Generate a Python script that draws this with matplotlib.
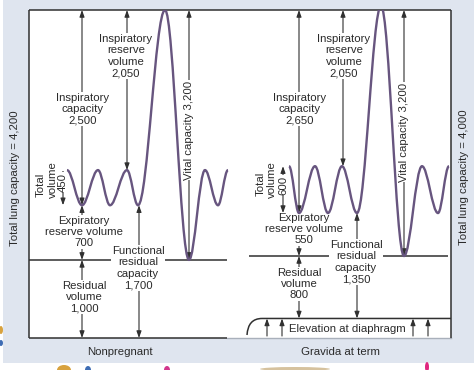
import matplotlib
matplotlib.use("Agg")
import matplotlib.pyplot as plt
from matplotlib.path import Path
from matplotlib.patches import PathPatch, Rectangle, Ellipse

plt.rcParams["font.family"] = ["Liberation Sans", "DejaVu Sans"]

# lung volumes (mL)
nonpreg_rv, nonpreg_erv, nonpreg_vt, nonpreg_irv = 1000, 700, 450, 2050
nonpreg_frc, nonpreg_ic, nonpreg_vc, nonpreg_tlc = 1700, 2500, 3200, 4200
grav_rv, grav_erv, grav_vt, grav_irv = 800, 550, 600, 2050
grav_frc, grav_ic, grav_vc, grav_tlc = 1350, 2650, 3200, 4000

# spirogram turning points: time along the trace and lung volume (mL)
nonpreg_t = [67, 82, 98, 110, 127, 138, 165, 189, 205, 218, 228]
nonpreg_v = [2150, 1700, 2150, 1700, 2150, 1700, 4200, 1000, 2150, 1700, 2150]
grav_t = [289, 299, 315, 328, 342, 357, 381, 404, 422, 438, 449]
grav_v = [1950, 1350, 1950, 1350, 1950, 1350, 4000, 800, 1950, 1350, 1950]

panel_names = ["Nonpregnant", "Gravida at term"]

ELEV = 250          # diaphragm elevation drawn as a baseline shift
K = 328 / 4200      # pixels per mL
FS = 8.2
TXT = "#2a2a2a"
LINE = "#303030"
TRACE = "#67557f"


def Y(p):
    # pixel row -> volume units, for placing labels
    return (338 - p) / K


fig = plt.figure(figsize=(4.74, 3.70), dpi=100)
fig.patch.set_facecolor("white")
ax = fig.add_axes([0, 0, 1, 1])
ax.set_xlim(0, 474)
ax.set_ylim(Y(370), Y(0))
ax.axis("off")

# slide background and decorations
ax.add_patch(Rectangle((3, Y(363)), 471, Y(0) - Y(363), fc="#dfe5ef", ec="none", zorder=0))
for (cx, cy, w, h, c) in [(64, 370, 14, 10, "#d8a23e"), (88, 370, 6, 8, "#3d6cb4"),
                          (167, 370, 6, 8, "#d2368c"), (295, 369, 70, 4, "#d6c29e"),
                          (427, 367, 4, 10, "#e0267f"), (1, 330, 4, 8, "#d8a23e"),
                          (1, 343, 4, 6, "#3d6cb4")]:
    ax.add_patch(Ellipse((cx, Y(cy)), w, h / K, fc=c, ec="none", zorder=0))

frame = Rectangle((29, 0), 422, nonpreg_tlc, fc="white", ec="none", zorder=1)
ax.add_patch(frame)

# frame lines
lk = dict(color=LINE, lw=1.1, zorder=4, solid_capstyle="butt")
ax.plot([29, 451], [nonpreg_tlc, nonpreg_tlc], **lk)
ax.plot([29, 29], [0, nonpreg_tlc], **lk)
ax.plot([451, 451], [0, nonpreg_tlc], **lk)
ax.plot([29, 227], [0, 0], **lk)
ax.plot([227, 451], [0, 0], color="#a9b0bb", lw=1.0, zorder=2)
ax.plot([29, 227], [nonpreg_rv, nonpreg_rv], **lk)
ax.plot([249, 448], [grav_rv + ELEV, grav_rv + ELEV], **lk)

# diaphragm baseline with rounded corner
base = Path([(247, Y(335)), (248, ELEV), (262, ELEV), (451, ELEV)],
            [Path.MOVETO, Path.CURVE3, Path.CURVE3, Path.LINETO])
ax.add_patch(PathPatch(base, fc="none", ec=LINE, lw=1.1, zorder=4))


def spiro_path(t, v, off=0):
    verts = [(t[0], v[0] + off)]
    codes = [Path.MOVETO]
    for i in range(1, len(t)):
        dt = (t[i] - t[i - 1]) * 0.36
        verts += [(t[i - 1] + dt, v[i - 1] + off), (t[i] - dt, v[i] + off), (t[i], v[i] + off)]
        codes += [Path.CURVE4] * 3
    return Path(verts, codes)


for t, v, off in [(nonpreg_t, nonpreg_v, 0), (grav_t, grav_v, ELEV)]:
    p = PathPatch(spiro_path(t, v, off), fc="none", ec=TRACE, lw=1.7, zorder=6)
    ax.add_patch(p)
    p.set_clip_path(frame)


def arrow(x, v0, v1, style="<|-|>"):
    ax.annotate("", xy=(x, v1), xytext=(x, v0), zorder=3,
                arrowprops=dict(arrowstyle=f"{style},head_length=0.5,head_width=0.18",
                                mutation_scale=8, lw=0.8, color=LINE, shrinkA=0, shrinkB=0))


def label(x, p, s, box=True, **kw):
    bb = dict(fc="white", ec="none", pad=0.6) if box else None
    ax.text(x, Y(p), s, ha="center", va="center", fontsize=FS, color=TXT,
            linespacing=1.18, zorder=5, bbox=bb, **kw)


# nonpregnant
tidal_top = nonpreg_frc + nonpreg_vt
arrow(82, nonpreg_frc, nonpreg_tlc)
arrow(127, tidal_top, nonpreg_tlc)
arrow(189, nonpreg_rv, nonpreg_tlc)
arrow(63, nonpreg_frc, tidal_top)
arrow(82, nonpreg_rv, nonpreg_frc)
arrow(82, 0, nonpreg_rv)
arrow(139, 0, nonpreg_frc)
label(126, 56, f"Inspiratory\nreserve\nvolume\n{nonpreg_irv:,}")
label(83, 109, f"Inspiratory\ncapacity\n{nonpreg_ic:,}")
label(189, 130, f"Vital capacity {nonpreg_vc:,}", rotation=90)
label(41, 185, "Total", box=False, rotation=90)
label(53, 180, "volume", box=False, rotation=90)
label(63, 182, f"{nonpreg_vt}", rotation=90)
label(84, 232, f"Expiratory\nreserve volume\n{nonpreg_erv}")
label(84, 297, f"Residual\nvolume\n{nonpreg_rv:,}")
label(138, 268, f"Functional\nresidual\ncapacity\n{nonpreg_frc:,}")
label(15, 178, f"Total lung capacity = {nonpreg_tlc:,}", box=False, rotation=90)

# gravida at term
g_frc = grav_frc + ELEV
g_top = grav_frc + grav_vt + ELEV
g_rv = grav_rv + ELEV
g_tlc = nonpreg_tlc
arrow(299, g_frc, g_tlc)
arrow(343, g_top, g_tlc)
arrow(404, g_rv, g_tlc)
arrow(283, g_frc, g_top)
arrow(299, g_rv, g_frc)
arrow(299, ELEV, g_rv)
arrow(357, ELEV, g_frc)
label(344, 56, f"Inspiratory\nreserve\nvolume\n{grav_irv:,}")
label(300, 109, f"Inspiratory\ncapacity\n{grav_ic:,}")
label(404, 132, f"Vital capacity {grav_vc:,}", rotation=90)
label(261, 184, "Total", box=False, rotation=90)
label(272, 180, "volume", box=False, rotation=90)
label(283, 185, f"{grav_vt}", rotation=90)
label(304, 229, f"Expiratory\nreserve volume\n{grav_erv}")
label(299, 284, f"Residual\nvolume\n{grav_rv}")
label(356, 262, f"Functional\nresidual\ncapacity\n{grav_frc:,}")
label(464, 177, f"Total lung capacity = {grav_tlc:,}", box=False, rotation=90)

for x in [267, 282, 413, 428]:
    arrow(x, Y(336), ELEV, style="-|>")
label(347, 329, "Elevation at diaphragm")

label(120, 352, panel_names[0], box=False)
label(341, 352, panel_names[1], box=False)

fig.savefig("out.png", dpi=100)
